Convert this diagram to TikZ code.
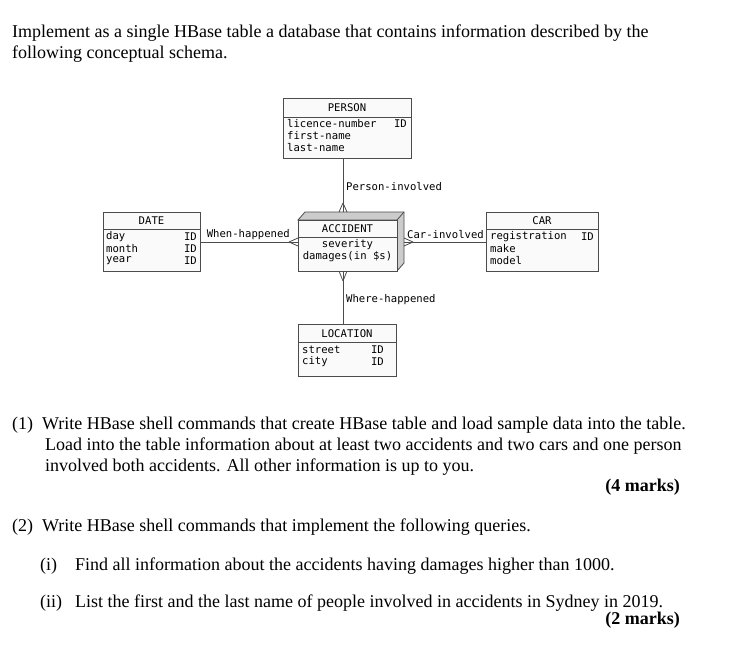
\documentclass[tikz,border=0pt]{standalone}
\usepackage{fontspec}
\setmainfont{Liberation Serif}
\newfontfamily\mono{DejaVu Sans Mono}
\begin{document}
\begin{tikzpicture}[x=1pt,y=-1pt,
  ent/.style={draw=black!70,fill=black!2,line width=0.8pt,inner sep=0},
  hd/.style={draw=black!70,line width=0.8pt},
  attr/.style={font=\mono\fontsize{10.6}{12}\selectfont,inner sep=0,anchor=west},
  idt/.style={font=\mono\fontsize{10.6}{12}\selectfont,inner sep=0,anchor=east},
  ht/.style={font=\mono\fontsize{10.6}{12}\selectfont,inner sep=0},
  lab/.style={font=\mono\fontsize{10.6}{12}\selectfont,inner sep=0},
  con/.style={draw=black!70,line width=0.8pt},
  txt/.style={font=\fontsize{18}{20}\selectfont,inner sep=0,anchor=base west}]
\useasboundingbox (0,0) rectangle (734,664);
\fill[white] (0,0) rectangle (734,664);
% text
\node[txt] (t1) at (12,37) {Implement as a single HBase table a database that contains information described by the};
\node[txt] (t2) at (12,58) {following conceptual schema.};
\node[txt] (q1) at (12,429) {(1)\ \ Write HBase shell commands that create HBase table and load sample data into the table.};
\node[txt] (q1b) at (45,450) {Load into the table information about at least two accidents and two cars and one person};
\node[txt] (q1c) at (45,471) {involved both accidents. All other information is up to you.};
\node[txt,anchor=base east] (m1) at (680,491) {\textbf{(4 marks)}};
\node[txt] (q2) at (12,531) {(2)\ \ Write HBase shell commands that implement the following queries.};
\node[txt] (q2a) at (40,570) {(i)};
\node[txt] (q2at) at (75,570) {Find all information about the accidents having damages higher than 1000.};
\node[txt] (q2b) at (40,607) {(ii)};
\node[txt] (q2bt) at (75,607) {List the first and the last name of people involved in accidents in Sydney in 2019.};
\node[txt,anchor=base east] (m2) at (680,624) {\textbf{(2 marks)}};
% PERSON
\node[ent,minimum width=128,minimum height=60] (per) at (347,128) {};
\draw[hd] (283,117) -- (411,117);
\node[ht] (perh) at (347,107.5) {PERSON};
\node[attr] (p1) at (287,123.5) {licence-number};
\node[idt] (p1i) at (407,123.5) {ID};
\node[attr] (p2) at (287,135.5) {first-name};
\node[attr] (p3) at (287,147.5) {last-name};
% DATE
\node[ent,minimum width=97,minimum height=59] (dat) at (151.5,241.5) {};
\draw[hd] (103,229) -- (200,229);
\node[ht] (dath) at (151.5,220.5) {DATE};
\node[attr] (d1) at (106,237) {day};\node[idt] (d1i) at (197,237) {ID};
\node[attr] (d2) at (106,249) {month};\node[idt] (d2i) at (197,249) {ID};
\node[attr] (d3) at (106,261) {year};\node[idt] (d3i) at (197,261) {ID};
% CAR
\node[ent,minimum width=112,minimum height=59] (car) at (542,241.5) {};
\draw[hd] (486,229) -- (598,229);
\node[ht] (carh) at (542,220.5) {CAR};
\node[attr] (c1) at (490,237) {registration};\node[idt] (c1i) at (594,237) {ID};
\node[attr] (c2) at (490,249) {make};
\node[attr] (c3) at (490,261) {model};
% LOCATION
\node[ent,minimum width=98,minimum height=52] (loc) at (347,350) {};
\draw[hd] (298,342) -- (396,342);
\node[ht] (loch) at (347,333.5) {LOCATION};
\node[attr] (l1) at (302,350) {street};\node[idt] (l1i) at (384,350) {ID};
\node[attr] (l2) at (302,362) {city};\node[idt] (l2i) at (384,362) {ID};
% ACCIDENT
\filldraw[draw=black!70,fill=black!20,line width=0.8pt] (298,220) -- (305,212) -- (404,212) -- (404,263) -- (397,271) -- (397,220) -- cycle;
\draw[draw=black!70,line width=0.8pt] (397,220) -- (404,212);
\node[ent,minimum width=99,minimum height=51] (acc) at (347.5,245.5) {};
\draw[hd] (298,237) -- (397,237);
\node[ht] (acch) at (347.5,228.5) {ACCIDENT};
\node[ht] (a1) at (347.5,244.5) {severity};
\node[ht] (a2) at (347.5,256.5) {damages(in \$s)};
\coordinate (acctop) at (343,212);
\coordinate (accright) at (404,242);
% connectors
\draw[con] (per.south -| acctop) -- (acctop);
\draw[con] (343,203) -- (339,212) (343,203) -- (347,212);
\draw[con] (dat.east |- accright) -- (acc.west |- accright);
\draw[con] (289,242) -- (298,238) (289,242) -- (298,246);
\draw[con] (accright) -- (car.west |- accright);
\draw[con] (413,242) -- (404,238) (413,242) -- (404,246);
\draw[con] (acc.south -| acctop) -- (loc.north -| acctop);
\draw[con] (343,281) -- (339,271) (343,281) -- (347,271);
\node[lab,anchor=west] (lpi) at (346,187) {Person-involved};
\node[lab,anchor=east] (lwh) at (290,235) {When-happened};
\node[lab,anchor=west] (lci) at (407,235) {Car-involved};
\node[lab,anchor=west] (lwp) at (346,300) {Where-happened};
\end{tikzpicture}
\end{document}
